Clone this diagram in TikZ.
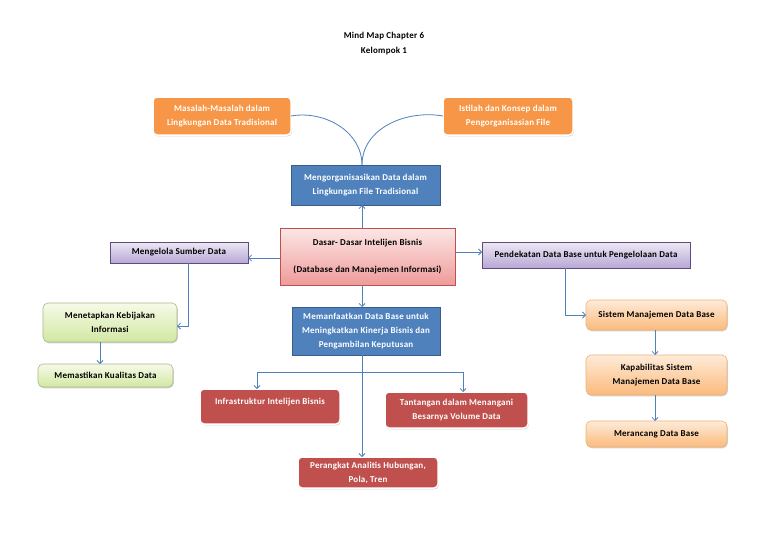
\documentclass[tikz,border=0pt]{standalone}
\usepackage{fontspec}
\setmainfont{Carlito}[LetterSpace=2.5]
\usetikzlibrary{arrows.meta,shadows}
\definecolor{oFill}{HTML}{F79646}
\definecolor{bFill}{HTML}{4F81BD}
\definecolor{bLine}{HTML}{385D8A}
\definecolor{pTop}{HTML}{FCE6E6}
\definecolor{pBot}{HTML}{EE9C9A}
\definecolor{pLine}{HTML}{C0504D}
\definecolor{uTop}{HTML}{EDE8F4}
\definecolor{uBot}{HTML}{B8A7D6}
\definecolor{uLine}{HTML}{5F4B7E}
\definecolor{gTop}{HTML}{F6FAE8}
\definecolor{gBot}{HTML}{D2E8A2}
\definecolor{gLine}{HTML}{A9B98A}
\definecolor{rFill}{HTML}{C0504D}
\definecolor{eTop}{HTML}{FEEBD8}
\definecolor{eBot}{HTML}{FBBA7C}
\definecolor{eLine}{HTML}{F0B27A}
\definecolor{lnBlue}{HTML}{4F81BD}
\tikzset{
  box/.style={align=center, inner sep=0pt, outer sep=0pt},
  shad/.style={drop shadow={shadow xshift=0.8pt, shadow yshift=-1.3pt, opacity=0.35}},
  orangetop/.style={box, shad, rounded corners=4pt, fill=oFill, draw=white, line width=1.5pt, text=white},
  bluebox/.style={box, shad, fill=bFill, draw=bLine, line width=0.8pt, text=white},
  pinkbox/.style={box, shad, top color=pTop, bottom color=pBot, draw=pLine, line width=0.6pt},
  purplebox/.style={box, shad, top color=uTop, bottom color=uBot, draw=uLine, line width=0.6pt},
  greenbox/.style={box, shad, rounded corners=5pt, top color=gTop, bottom color=gBot, draw=gLine, line width=0.6pt},
  redbox/.style={box, shad, rounded corners=4pt, fill=rFill, draw=white, line width=1.5pt, text=white},
  peachbox/.style={box, shad, rounded corners=5pt, top color=eTop, bottom color=eBot, draw=eLine, line width=0.6pt},
  conn/.style={draw=lnBlue, line width=0.8pt},
  arr/.style={conn, -{Straight Barb[length=3pt,width=6pt]}},
}
\begin{document}
\begin{tikzpicture}[x=1pt, y=-1pt, font=\bfseries\fontsize{9}{14}\selectfont]
\useasboundingbox[fill=white] (0,0) rectangle (768,543);

\node[box, text=black, font=\bfseries\fontsize{9}{15}\selectfont] (title) at (384,44) {Mind Map Chapter 6\\Kelompok 1};

\node[orangetop, minimum width=138, minimum height=38] (oL) at (222,116) {Masalah-Masalah dalam\\Lingkungan Data Tradisional};
\node[orangetop, minimum width=130, minimum height=38] (oR) at (508,116) {Istilah dan Konsep dalam\\Pengorganisasian File};
\node[bluebox, minimum width=149, minimum height=40] (blue1) at (365.5,185) {Mengorganisasikan Data dalam\\Lingkungan File Tradisional};
\node[pinkbox, minimum width=175, minimum height=57] (pink) at (367.5,256.5) {Dasar- Dasar Intelijen Bisnis\\[13pt](Database dan Manajemen Informasi)};
\node[purplebox, minimum width=138, minimum height=21] (purpleL) at (179,252.5) {Mengelola Sumber Data};
\node[purplebox, minimum width=208, minimum height=26] (purpleR) at (586,255) {Pendekatan Data Base untuk Pengelolaan Data};
\node[bluebox, minimum width=148, minimum height=48] (blue2) at (366,331) {Memanfaatkan Data Base untuk\\Meningkatkan Kinerja Bisnis dan\\Pengambilan Keputusan};
\node[greenbox, minimum width=134, minimum height=39] (green1) at (110,322.5) {Menetapkan Kebijakan\\Informasi};
\node[greenbox, minimum width=135, minimum height=23] (green2) at (105.5,375.5) {Memastikan Kualitas Data};
\node[redbox, minimum width=140, minimum height=35] (red1) at (270,406.5) {Infrastruktur Intelijen Bisnis\\[-3pt]\mbox{}};
\node[redbox, minimum width=143, minimum height=36] (red2) at (456.5,410) {Tantangan dalam Menangani\\Besarnya Volume Data};
\node[redbox, minimum width=140, minimum height=31] (red3) at (368,472.5) {Perangkat Analitis Hubungan,\\Pola, Tren};
\node[peachbox, minimum width=141, minimum height=30] (pe1) at (656.5,315) {Sistem Manajemen Data Base};
\node[peachbox, minimum width=141, minimum height=40] (pe2) at (656.5,375) {Kapabilitas Sistem\\Manajemen Data Base};
\node[peachbox, minimum width=141, minimum height=26] (pe3) at (656.5,434) {Merancang Data Base};

\coordinate (spine) at (362,0);
\coordinate (yl) at (0,258);
\coordinate (yr) at (0,252);
\coordinate (bar) at (0,372);
\coordinate (xa) at (257,0);
\coordinate (xb) at (463,0);
\coordinate (xl) at (188,0);
\coordinate (ygl) at (0,326);
\coordinate (xg) at (100,0);
\coordinate (xr) at (565,0);
\coordinate (yper) at (0,315);
\coordinate (xp) at (655,0);

\draw[arr] (pink.north -| spine) -- (blue1.south -| spine);
\draw[conn] (oL.east) to[out=10, in=90] (blue1.north -| spine);
\draw[conn] (oR.west) to[out=170, in=90] (blue1.north -| spine);
\draw[arr] (pink.west |- yl) -- (purpleL.east |- yl);
\draw[arr] (pink.east |- yr) -- (purpleR.west |- yr);
\draw[arr] (pink.south -| spine) -- (blue2.north -| spine);
\draw[conn] (xa |- bar) -- (xb |- bar);
\draw[arr] (xa |- bar) -- (red1.north -| xa);
\draw[arr] (xb |- bar) -- (red2.north -| xb);
\draw[arr] (blue2.south -| spine) -- (red3.north -| spine);
\draw[arr] (purpleL.south -| xl) |- (green1.east |- ygl);
\draw[arr] (green1.south -| xg) -- (green2.north -| xg);
\draw[arr] (purpleR.south -| xr) |- (pe1.west |- yper);
\draw[arr] (pe1.south -| xp) -- (pe2.north -| xp);
\draw[arr] (pe2.south -| xp) -- (pe3.north -| xp);
\end{tikzpicture}
\end{document}
